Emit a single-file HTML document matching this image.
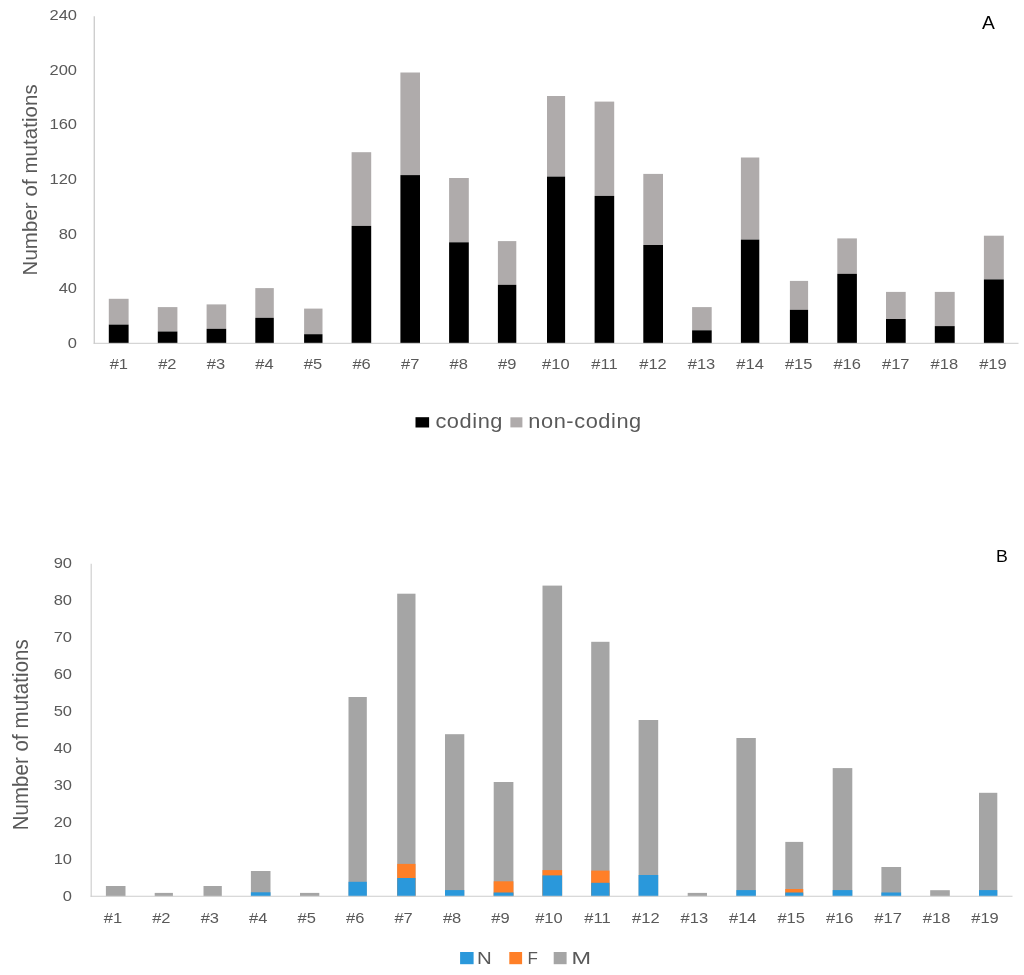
<!DOCTYPE html>
<html lang="en"><head><meta charset="utf-8"><title>Number of mutations</title>
<style>
html,body{margin:0;padding:0;background:#fff;}
body{width:1024px;height:975px;overflow:hidden;}
svg{display:block;}
text{font-family:"Liberation Sans",Arial,sans-serif;fill:#595959;}
.tick{font-size:15px;}
.ytitle{font-size:20.4px;letter-spacing:0.1px;}
.legA{font-size:19.3px;letter-spacing:0.5px;}
.legB{font-size:17px;}
.panel{font-size:17.5px;fill:#000;}
</style></head><body>
<svg width="1024" height="975" viewBox="0 0 1024 975">
<rect x="0" y="0" width="1024" height="975" fill="#ffffff"/>
<g id="chartA">
<rect x="108.80" y="298.80" width="19.80" height="25.80" fill="#afabab"/>
<rect x="108.80" y="324.60" width="19.80" height="18.60" fill="#000000"/>
<rect x="157.80" y="307.10" width="19.60" height="24.40" fill="#afabab"/>
<rect x="157.80" y="331.50" width="19.60" height="11.70" fill="#000000"/>
<rect x="206.60" y="304.40" width="19.60" height="24.40" fill="#afabab"/>
<rect x="206.60" y="328.80" width="19.60" height="14.40" fill="#000000"/>
<rect x="255.30" y="288.10" width="18.50" height="29.70" fill="#afabab"/>
<rect x="255.30" y="317.80" width="18.50" height="25.40" fill="#000000"/>
<rect x="304.10" y="308.60" width="18.40" height="25.60" fill="#afabab"/>
<rect x="304.10" y="334.20" width="18.40" height="9.00" fill="#000000"/>
<rect x="351.60" y="152.20" width="19.60" height="73.70" fill="#afabab"/>
<rect x="351.60" y="225.90" width="19.60" height="117.30" fill="#000000"/>
<rect x="400.40" y="72.50" width="19.60" height="102.60" fill="#afabab"/>
<rect x="400.40" y="175.10" width="19.60" height="168.10" fill="#000000"/>
<rect x="449.10" y="178.00" width="19.70" height="64.30" fill="#afabab"/>
<rect x="449.10" y="242.30" width="19.70" height="100.90" fill="#000000"/>
<rect x="497.90" y="241.10" width="18.40" height="43.70" fill="#afabab"/>
<rect x="497.90" y="284.80" width="18.40" height="58.40" fill="#000000"/>
<rect x="547.00" y="96.00" width="18.10" height="80.60" fill="#afabab"/>
<rect x="547.00" y="176.60" width="18.10" height="166.60" fill="#000000"/>
<rect x="594.60" y="101.60" width="19.60" height="94.30" fill="#afabab"/>
<rect x="594.60" y="195.90" width="19.60" height="147.30" fill="#000000"/>
<rect x="643.30" y="173.90" width="19.70" height="71.10" fill="#afabab"/>
<rect x="643.30" y="245.00" width="19.70" height="98.20" fill="#000000"/>
<rect x="692.10" y="307.10" width="19.60" height="23.20" fill="#afabab"/>
<rect x="692.10" y="330.30" width="19.60" height="12.90" fill="#000000"/>
<rect x="740.90" y="157.50" width="18.40" height="82.10" fill="#afabab"/>
<rect x="740.90" y="239.60" width="18.40" height="103.60" fill="#000000"/>
<rect x="789.90" y="280.90" width="18.20" height="28.90" fill="#afabab"/>
<rect x="789.90" y="309.80" width="18.20" height="33.40" fill="#000000"/>
<rect x="837.30" y="238.40" width="19.60" height="35.40" fill="#afabab"/>
<rect x="837.30" y="273.80" width="19.60" height="69.40" fill="#000000"/>
<rect x="886.00" y="291.90" width="19.70" height="27.10" fill="#afabab"/>
<rect x="886.00" y="319.00" width="19.70" height="24.20" fill="#000000"/>
<rect x="934.80" y="291.90" width="19.90" height="34.20" fill="#afabab"/>
<rect x="934.80" y="326.10" width="19.90" height="17.10" fill="#000000"/>
<rect x="983.90" y="235.70" width="19.90" height="43.70" fill="#afabab"/>
<rect x="983.90" y="279.40" width="19.90" height="63.80" fill="#000000"/>
<line x1="94.25" y1="16.30" x2="94.25" y2="343.80" stroke="#c6c6c6" stroke-width="1.2"/>
<line x1="93.65" y1="343.30" x2="1018.50" y2="343.30" stroke="#cbcbcb" stroke-width="1"/>
<text class="tick" transform="translate(77.00,20.00) scale(1.100,1)" text-anchor="end">240</text>
<text class="tick" transform="translate(77.00,75.00) scale(1.100,1)" text-anchor="end">200</text>
<text class="tick" transform="translate(77.00,129.00) scale(1.100,1)" text-anchor="end">160</text>
<text class="tick" transform="translate(77.00,184.00) scale(1.100,1)" text-anchor="end">120</text>
<text class="tick" transform="translate(77.00,239.00) scale(1.100,1)" text-anchor="end">80</text>
<text class="tick" transform="translate(77.00,293.00) scale(1.100,1)" text-anchor="end">40</text>
<text class="tick" transform="translate(77.00,348.00) scale(1.100,1)" text-anchor="end">0</text>
<text class="tick" transform="translate(118.80,369.00) scale(1.100,1)" text-anchor="middle">#1</text>
<text class="tick" transform="translate(167.36,369.00) scale(1.100,1)" text-anchor="middle">#2</text>
<text class="tick" transform="translate(215.92,369.00) scale(1.100,1)" text-anchor="middle">#3</text>
<text class="tick" transform="translate(264.48,369.00) scale(1.100,1)" text-anchor="middle">#4</text>
<text class="tick" transform="translate(313.04,369.00) scale(1.100,1)" text-anchor="middle">#5</text>
<text class="tick" transform="translate(361.60,369.00) scale(1.100,1)" text-anchor="middle">#6</text>
<text class="tick" transform="translate(410.16,369.00) scale(1.100,1)" text-anchor="middle">#7</text>
<text class="tick" transform="translate(458.72,369.00) scale(1.100,1)" text-anchor="middle">#8</text>
<text class="tick" transform="translate(507.28,369.00) scale(1.100,1)" text-anchor="middle">#9</text>
<text class="tick" transform="translate(555.84,369.00) scale(1.100,1)" text-anchor="middle">#10</text>
<text class="tick" transform="translate(604.40,369.00) scale(1.100,1)" text-anchor="middle">#11</text>
<text class="tick" transform="translate(652.96,369.00) scale(1.100,1)" text-anchor="middle">#12</text>
<text class="tick" transform="translate(701.52,369.00) scale(1.100,1)" text-anchor="middle">#13</text>
<text class="tick" transform="translate(750.08,369.00) scale(1.100,1)" text-anchor="middle">#14</text>
<text class="tick" transform="translate(798.64,369.00) scale(1.100,1)" text-anchor="middle">#15</text>
<text class="tick" transform="translate(847.20,369.00) scale(1.100,1)" text-anchor="middle">#16</text>
<text class="tick" transform="translate(895.76,369.00) scale(1.100,1)" text-anchor="middle">#17</text>
<text class="tick" transform="translate(944.32,369.00) scale(1.100,1)" text-anchor="middle">#18</text>
<text class="tick" transform="translate(992.88,369.00) scale(1.100,1)" text-anchor="middle">#19</text>
<text class="ytitle" transform="translate(37.0,275.4) rotate(-90)">Number of mutations</text>
<rect x="415.5" y="417.2" width="13.6" height="10.3" fill="#000"/>
<text class="legA" transform="translate(435.40,427.50) scale(1.130,1)">coding</text>
<rect x="510.4" y="417.3" width="12" height="10.1" fill="#afabab"/>
<text class="legA" transform="translate(528.30,427.50) scale(1.130,1)">non-coding</text>
<text class="panel" transform="translate(981.90,28.80) scale(1.100,1)">A</text>
</g>
<g id="chartB">
<rect x="105.90" y="886.00" width="19.60" height="10.20" fill="#a5a5a5"/>
<rect x="154.70" y="892.90" width="18.20" height="3.30" fill="#a5a5a5"/>
<rect x="203.50" y="886.00" width="18.30" height="10.20" fill="#a5a5a5"/>
<rect x="250.90" y="871.00" width="19.60" height="25.20" fill="#a5a5a5"/>
<rect x="250.90" y="892.30" width="19.60" height="3.90" fill="#2a98db"/>
<rect x="300.00" y="892.90" width="19.30" height="3.30" fill="#a5a5a5"/>
<rect x="348.50" y="697.00" width="18.30" height="199.20" fill="#a5a5a5"/>
<rect x="348.50" y="881.80" width="18.30" height="14.40" fill="#2a98db"/>
<rect x="397.20" y="593.70" width="18.30" height="302.50" fill="#a5a5a5"/>
<rect x="397.20" y="863.90" width="18.30" height="32.30" fill="#ff7f27"/>
<rect x="397.20" y="878.00" width="18.30" height="18.20" fill="#2a98db"/>
<rect x="445.00" y="734.20" width="19.30" height="162.00" fill="#a5a5a5"/>
<rect x="445.00" y="890.10" width="19.30" height="6.10" fill="#2a98db"/>
<rect x="493.70" y="782.00" width="19.70" height="114.20" fill="#a5a5a5"/>
<rect x="493.70" y="881.30" width="19.70" height="14.90" fill="#ff7f27"/>
<rect x="493.70" y="892.50" width="19.70" height="3.70" fill="#2a98db"/>
<rect x="542.50" y="585.60" width="19.60" height="310.60" fill="#a5a5a5"/>
<rect x="542.50" y="870.10" width="19.60" height="26.10" fill="#ff7f27"/>
<rect x="542.50" y="875.40" width="19.60" height="20.80" fill="#2a98db"/>
<rect x="591.20" y="641.80" width="18.30" height="254.40" fill="#a5a5a5"/>
<rect x="591.20" y="870.60" width="18.30" height="25.60" fill="#ff7f27"/>
<rect x="591.20" y="882.80" width="18.30" height="13.40" fill="#2a98db"/>
<rect x="638.60" y="720.00" width="19.60" height="176.20" fill="#a5a5a5"/>
<rect x="638.60" y="875.00" width="19.60" height="21.20" fill="#2a98db"/>
<rect x="687.70" y="892.90" width="19.30" height="3.30" fill="#a5a5a5"/>
<rect x="736.40" y="738.00" width="19.40" height="158.20" fill="#a5a5a5"/>
<rect x="736.40" y="890.10" width="19.40" height="6.10" fill="#2a98db"/>
<rect x="785.30" y="841.90" width="17.90" height="54.30" fill="#a5a5a5"/>
<rect x="785.30" y="889.00" width="17.90" height="7.20" fill="#ff7f27"/>
<rect x="785.30" y="892.50" width="17.90" height="3.70" fill="#2a98db"/>
<rect x="832.70" y="768.10" width="19.60" height="128.10" fill="#a5a5a5"/>
<rect x="832.70" y="890.10" width="19.60" height="6.10" fill="#2a98db"/>
<rect x="881.40" y="867.00" width="19.70" height="29.20" fill="#a5a5a5"/>
<rect x="881.40" y="892.50" width="19.70" height="3.70" fill="#2a98db"/>
<rect x="930.20" y="890.20" width="19.60" height="6.00" fill="#a5a5a5"/>
<rect x="979.00" y="792.80" width="18.30" height="103.40" fill="#a5a5a5"/>
<rect x="979.00" y="890.10" width="18.30" height="6.10" fill="#2a98db"/>
<line x1="91.20" y1="563.70" x2="91.20" y2="896.80" stroke="#d0d0d0" stroke-width="1.2"/>
<line x1="90.60" y1="896.25" x2="1012.50" y2="896.25" stroke="#cdcdcd" stroke-width="1"/>
<text class="tick" transform="translate(72.00,568.00) scale(1.100,1)" text-anchor="end">90</text>
<text class="tick" transform="translate(72.00,605.00) scale(1.100,1)" text-anchor="end">80</text>
<text class="tick" transform="translate(72.00,642.00) scale(1.100,1)" text-anchor="end">70</text>
<text class="tick" transform="translate(72.00,679.00) scale(1.100,1)" text-anchor="end">60</text>
<text class="tick" transform="translate(72.00,716.00) scale(1.100,1)" text-anchor="end">50</text>
<text class="tick" transform="translate(72.00,753.00) scale(1.100,1)" text-anchor="end">40</text>
<text class="tick" transform="translate(72.00,790.00) scale(1.100,1)" text-anchor="end">30</text>
<text class="tick" transform="translate(72.00,827.00) scale(1.100,1)" text-anchor="end">20</text>
<text class="tick" transform="translate(72.00,864.00) scale(1.100,1)" text-anchor="end">10</text>
<text class="tick" transform="translate(72.00,901.00) scale(1.100,1)" text-anchor="end">0</text>
<text class="tick" transform="translate(112.90,923.00) scale(1.100,1)" text-anchor="middle">#1</text>
<text class="tick" transform="translate(161.35,923.00) scale(1.100,1)" text-anchor="middle">#2</text>
<text class="tick" transform="translate(209.80,923.00) scale(1.100,1)" text-anchor="middle">#3</text>
<text class="tick" transform="translate(258.25,923.00) scale(1.100,1)" text-anchor="middle">#4</text>
<text class="tick" transform="translate(306.70,923.00) scale(1.100,1)" text-anchor="middle">#5</text>
<text class="tick" transform="translate(355.15,923.00) scale(1.100,1)" text-anchor="middle">#6</text>
<text class="tick" transform="translate(403.60,923.00) scale(1.100,1)" text-anchor="middle">#7</text>
<text class="tick" transform="translate(452.05,923.00) scale(1.100,1)" text-anchor="middle">#8</text>
<text class="tick" transform="translate(500.50,923.00) scale(1.100,1)" text-anchor="middle">#9</text>
<text class="tick" transform="translate(548.95,923.00) scale(1.100,1)" text-anchor="middle">#10</text>
<text class="tick" transform="translate(597.40,923.00) scale(1.100,1)" text-anchor="middle">#11</text>
<text class="tick" transform="translate(645.85,923.00) scale(1.100,1)" text-anchor="middle">#12</text>
<text class="tick" transform="translate(694.30,923.00) scale(1.100,1)" text-anchor="middle">#13</text>
<text class="tick" transform="translate(742.75,923.00) scale(1.100,1)" text-anchor="middle">#14</text>
<text class="tick" transform="translate(791.20,923.00) scale(1.100,1)" text-anchor="middle">#15</text>
<text class="tick" transform="translate(839.65,923.00) scale(1.100,1)" text-anchor="middle">#16</text>
<text class="tick" transform="translate(888.10,923.00) scale(1.100,1)" text-anchor="middle">#17</text>
<text class="tick" transform="translate(936.55,923.00) scale(1.100,1)" text-anchor="middle">#18</text>
<text class="tick" transform="translate(985.00,923.00) scale(1.100,1)" text-anchor="middle">#19</text>
<text class="ytitle" transform="translate(27.7,830.3) rotate(-90) scale(1,1.05)">Number of mutations</text>
<rect x="460.1" y="952" width="13.5" height="12.2" fill="#2a98db"/>
<text class="legB" transform="translate(476.90,963.60) scale(1.200,1)">N</text>
<rect x="509.3" y="952" width="12.8" height="12.2" fill="#ff7f27"/>
<text class="legB" x="527.50" y="963.60">F</text>
<rect x="553.7" y="952" width="12.9" height="12.2" fill="#a5a5a5"/>
<text class="legB" transform="translate(571.50,963.60) scale(1.380,1)">M</text>
<text class="panel" style="font-size:16.6px" transform="translate(995.9,562.0) scale(1.07,1)">B</text>
</g>
</svg>
</body></html>
